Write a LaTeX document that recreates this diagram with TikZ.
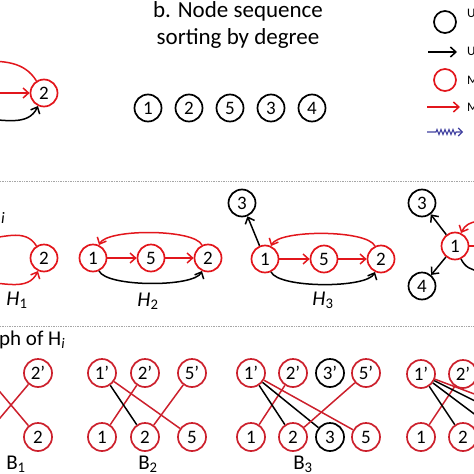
\documentclass[tikz,border=0pt]{standalone}
\usepackage{fontspec}
\setmainfont{Carlito}
\usetikzlibrary{calc,arrows.meta,decorations.pathmorphing}
\definecolor{mred}{RGB}{226,22,28}
\definecolor{bred}{RGB}{204,32,44}
\definecolor{wblue}{RGB}{64,64,160}
\begin{document}
\begin{tikzpicture}[x=1pt,y=-1pt]
       \tikzstyle{vtx} = [circle, draw=black, line width=1.7pt, minimum size=27pt, inner sep=0pt, font=\fontsize{19}{19}\selectfont];
       \tikzstyle{mvtx} = [vtx, draw=mred];
       \tikzstyle{bvtx} = [vtx, draw=bred, minimum size=28pt];
       \tikzstyle{arr} = [-{Straight Barb[length=5.5pt,width=10pt]}, line width=1.5pt];
       \tikzstyle{marr} = [arr, mred];
       \tikzstyle{bline} = [line width=1.5pt, bred];
       \tikzstyle{kline} = [line width=1.5pt, black];
       \tikzstyle{toparc} = [out=115, in=65, looseness=0.45];
       \tikzstyle{botarc} = [out=-65, in=-115, looseness=0.45];
       \tikzstyle{sep} = [densely dotted, black!35, line width=0.7pt];
       \tikzstyle{lbl} = [font=\fontsize{21}{21}\selectfont];
       \tikzstyle{lgd} = [anchor=west, inner sep=0pt, font=\fontsize{13}{13}\selectfont];
       \useasboundingbox (0,0) rectangle (474,474);

       % top left graph
       \node[mvtx] (a2) at (44,93) {2};
       \coordinate (a1t) at (-20,61);
       \coordinate (a5) at (-2,93);
       \coordinate (a1b) at (-20,119);
       \draw[line width=1.5pt, mred] (a2) to[out=122,in=0] (a1t);
       \draw[marr] (a5) -- (a2);
       \draw[arr] (a1b) to[out=0,in=245] (a2);

       % b. node sequence
       \node[lbl, font=\fontsize{23}{27}\selectfont, align=center] (ttl) at (238,25) {b. Node sequence\\sorting by degree};
       \node[vtx] (s1) at (148,108) {1};
       \node[vtx] (s2) at (189,108) {2};
       \node[vtx] (s5) at (230,108) {5};
       \node[vtx] (s3) at (271,108) {3};
       \node[vtx] (s4) at (312,108) {4};

       % legend
       \node[vtx, minimum size=22pt] (lgu) at (445,22) {};
       \coordinate (lga0) at (428,52);
       \coordinate (lga1) at (457,52);
       \draw[arr] (lga0) -- (lga1);
       \node[mvtx, minimum size=22pt] (lgm) at (445,80) {};
       \coordinate (lgb0) at (427,107);
       \coordinate (lgb1) at (460,107);
       \draw[marr] (lgb0) -- (lgb1);
       \coordinate (lgc0) at (427,132);
       \coordinate (lgc1) at (463,132);
       \draw[wblue, line width=1.1pt, -{Straight Barb[length=4pt,width=8pt]}, decorate, decoration={zigzag, amplitude=2.5pt, segment length=4pt, pre length=9pt, post length=7pt}] (lgc0) -- (lgc1);
       \node[lgd] (lgut) at (467,13) {Unmatched node};
       \node[lgd] (lgat) at (467,52) {Unmatched edge};
       \node[lgd] (lgmt) at (467,80) {Matched node};
       \node[lgd] (lgbt) at (467,108) {Matched edge};

       \draw[sep] (0,181) -- (474,181);

       % H graphs
       \node[font=\itshape\fontsize{16}{16}\selectfont, inner sep=0pt] (hi) at (3,218) {i};

       \node[mvtx] (h1b) at (44,258) {2};
       \coordinate (h1t) at (-20,239);
       \coordinate (h1l) at (-20,282);
       \draw[line width=1.5pt, mred] (h1b) to[out=122,in=0] (h1t);
       \draw[marr] (h1l) to[out=0,in=245] (h1b);
       \node[lbl] (h1) at (17,300) {\textit{H}\textsubscript{1}};

       \node[mvtx] (h2a) at (93,258) {1};
       \node[mvtx] (h2e) at (151,258) {5};
       \node[mvtx] (h2b) at (208,258) {2};
       \draw[marr] (h2a) -- (h2e);
       \draw[marr] (h2e) -- (h2b);
       \draw[marr] (h2b) to[toparc] (h2a);
       \draw[arr] (h2a) to[botarc] (h2b);
       \node[lbl] (h2) at (148,301) {\textit{H}\textsubscript{2}};

       \node[mvtx] (h3a) at (265,259) {1};
       \node[mvtx] (h3e) at (324,259) {5};
       \node[mvtx] (h3b) at (381,259) {2};
       \node[vtx] (h3c) at (242,203) {3};
       \draw[marr] (h3a) -- (h3e);
       \draw[marr] (h3e) -- (h3b);
       \draw[marr] (h3b) to[toparc] (h3a);
       \draw[arr] (h3a) to[botarc] (h3b);
       \draw[arr] (h3a) -- (h3c);
       \node[lbl] (h3) at (323,300) {\textit{H}\textsubscript{3}};

       \node[vtx] (h4c) at (422,203) {3};
       \node[mvtx] (h4a) at (455,246) {1};
       \node[vtx] (h4d) at (422,286) {4};
       \coordinate (h4t) at (500,221);
       \coordinate (h4e) at (514,246);
       \coordinate (h4f) at (505,271);
       \draw[arr] (h4a) -- (h4c);
       \draw[arr] (h4a) -- (h4d);
       \draw[marr] (h4t) to[out=180,in=65] (h4a);
       \draw[marr] (h4a) -- (h4e);
       \draw[kline] (h4a) to[out=-65,in=180] (h4f);

       \draw[sep] (0,326) -- (474,326);

       % bipartite graphs
       \node[lbl, anchor=base west, inner sep=0pt] (bip) at (-1,345) {ph of H\textsubscript{\textit{i}}};

       \node[bvtx] (b1p2) at (38,373) {2'};
       \node[bvtx] (b1q2) at (38,437) {2};
       \coordinate (b1p1) at (-16,373);
       \coordinate (b1q1) at (-16,437);
       \draw[bline] (b1p1) -- (b1q2);
       \draw[bline] (b1q1) -- (b1p2);
       \node[lbl] (b1) at (16,464) {B\textsubscript{1}};

       \node[bvtx] (b2p1) at (102,373) {1'};
       \node[bvtx] (b2p2) at (145,373) {2'};
       \node[bvtx] (b2p5) at (192,373) {5'};
       \node[bvtx] (b2q1) at (102,437) {1};
       \node[bvtx] (b2q2) at (145,437) {2};
       \node[bvtx] (b2q5) at (192,437) {5};
       \draw[bline] (b2q1) -- (b2p2);
       \draw[bline] (b2p1) -- (b2q5);
       \draw[kline] (b2p1) -- (b2q2);
       \draw[bline] (b2q2) -- (b2p5);
       \node[lbl] (b2) at (148,464) {B\textsubscript{2}};

       \node[bvtx] (b3p1) at (251,373) {1'};
       \node[bvtx] (b3p2) at (293,373) {2'};
       \node[vtx, minimum size=28pt] (b3p3) at (330,373) {3'};
       \node[bvtx] (b3p5) at (366,373) {5'};
       \node[bvtx] (b3q1) at (251,437) {1};
       \node[bvtx] (b3q2) at (293,437) {2};
       \node[vtx, minimum size=28pt] (b3q3) at (330,437) {3};
       \node[bvtx] (b3q5) at (366,437) {5};
       \draw[bline] (b3q1) -- (b3p2);
       \draw[bline] (b3p1) -- (b3q5);
       \draw[kline] (b3p1) -- (b3q2);
       \draw[kline] (b3p1) -- (b3q3);
       \draw[bline] (b3q2) -- (b3p5);
       \node[lbl] (b3) at (303,464) {B\textsubscript{3}};

       \node[bvtx] (b4p1) at (421,374) {1'};
       \node[bvtx] (b4p2) at (463,374) {2'};
       \node[bvtx] (b4q1) at (421,437) {1};
       \node[bvtx] (b4q2) at (463,437) {2};
       \coordinate (b4q3) at (505,437);
       \coordinate (b4q4) at (547,437);
       \coordinate (b4q5) at (589,437);
       \draw[bline] (b4q1) -- (b4p2);
       \draw[kline] (b4p1) -- (b4q2);
       \draw[kline] (b4p1) -- (b4q3);
       \draw[kline] (b4p1) -- (b4q4);
       \draw[bline] (b4p1) -- (b4q5);
\end{tikzpicture}
\end{document}
